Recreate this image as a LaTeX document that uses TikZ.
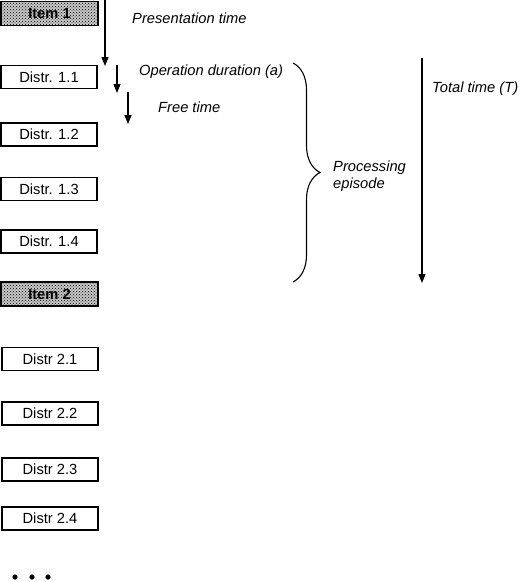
\documentclass[tikz,border=0pt]{standalone}
\usepackage{fontspec}
\setmainfont{Liberation Sans}
\usetikzlibrary{arrows.meta,patterns,decorations.pathreplacing}
\begin{document}
\begin{tikzpicture}[x=1pt,y=-1pt,
  distbox/.style={draw,line width=1.3pt,minimum width=96pt,minimum height=23pt,inner sep=0pt,
    font=\fontsize{14.7}{16}\selectfont},
  itembox/.style={draw,line width=1.4pt,minimum width=97pt,minimum height=24pt,inner sep=0pt,
    preaction={fill=black!22},pattern=crosshatch dots,pattern color=black,
    font=\fontsize{14.7}{16}\selectfont\bfseries},
  lbl/.style={anchor=west,inner sep=0pt,font=\fontsize{14.7}{16}\selectfont\itshape},
  tarrow/.style={line width=1.3pt,-{Triangle[length=9pt,width=7pt]}}]
\useasboundingbox (0,0) rectangle (521,581);
% boxes
\node[itembox] (i1) at (49.5,13.5) {Item 1};
\node[distbox] (d11) at (49,77) {Distr. 1.1};
\node[distbox] (d12) at (49,134.5) {Distr. 1.2};
\node[distbox] (d13) at (49,189) {Distr. 1.3};
\node[distbox] (d14) at (49,241.5) {Distr. 1.4};
\node[itembox] (i2) at (49.5,294) {Item 2};
\node[distbox] (d21) at (50,359) {Distr 2.1};
\node[distbox] (d22) at (50,413.5) {Distr 2.2};
\node[distbox] (d23) at (50,469.5) {Distr 2.3};
\node[distbox] (d24) at (50,518.5) {Distr 2.4};
% dots
\foreach \xx [count=\k] in {15,32,48} \fill (\xx,577) circle (2.6pt) coordinate (dot\k);
% arrows
\coordinate (p1) at (105,0); \coordinate (p2) at (105,66);
\coordinate (o1) at (117,65); \coordinate (o2) at (117,93);
\coordinate (f1) at (128,92); \coordinate (f2) at (128,124);
\coordinate (t1) at (422,58); \coordinate (t2) at (422,283);
\draw[tarrow] (p1) -- (p2);
\draw[tarrow] (o1) -- (o2);
\draw[tarrow] (f1) -- (f2);
\draw[tarrow] (t1) -- (t2);
% labels
\node[lbl] (lp) at (132,18) {Presentation time};
\node[lbl] (lo) at (139,72) {Operation duration (a)};
\node[lbl] (lf) at (158,107) {Free time};
\node[lbl] (lt) at (432,89) {Total time (T)};
\node[lbl,align=left] (lpe) at (333,176) {Processing\\[1pt]episode};
% brace
\coordinate (b1) at (293,63); \coordinate (b2) at (293,282);
\draw[line width=1.1pt,decorate,decoration={brace,amplitude=27pt}] (b1) -- (b2);
\end{tikzpicture}
\end{document}
